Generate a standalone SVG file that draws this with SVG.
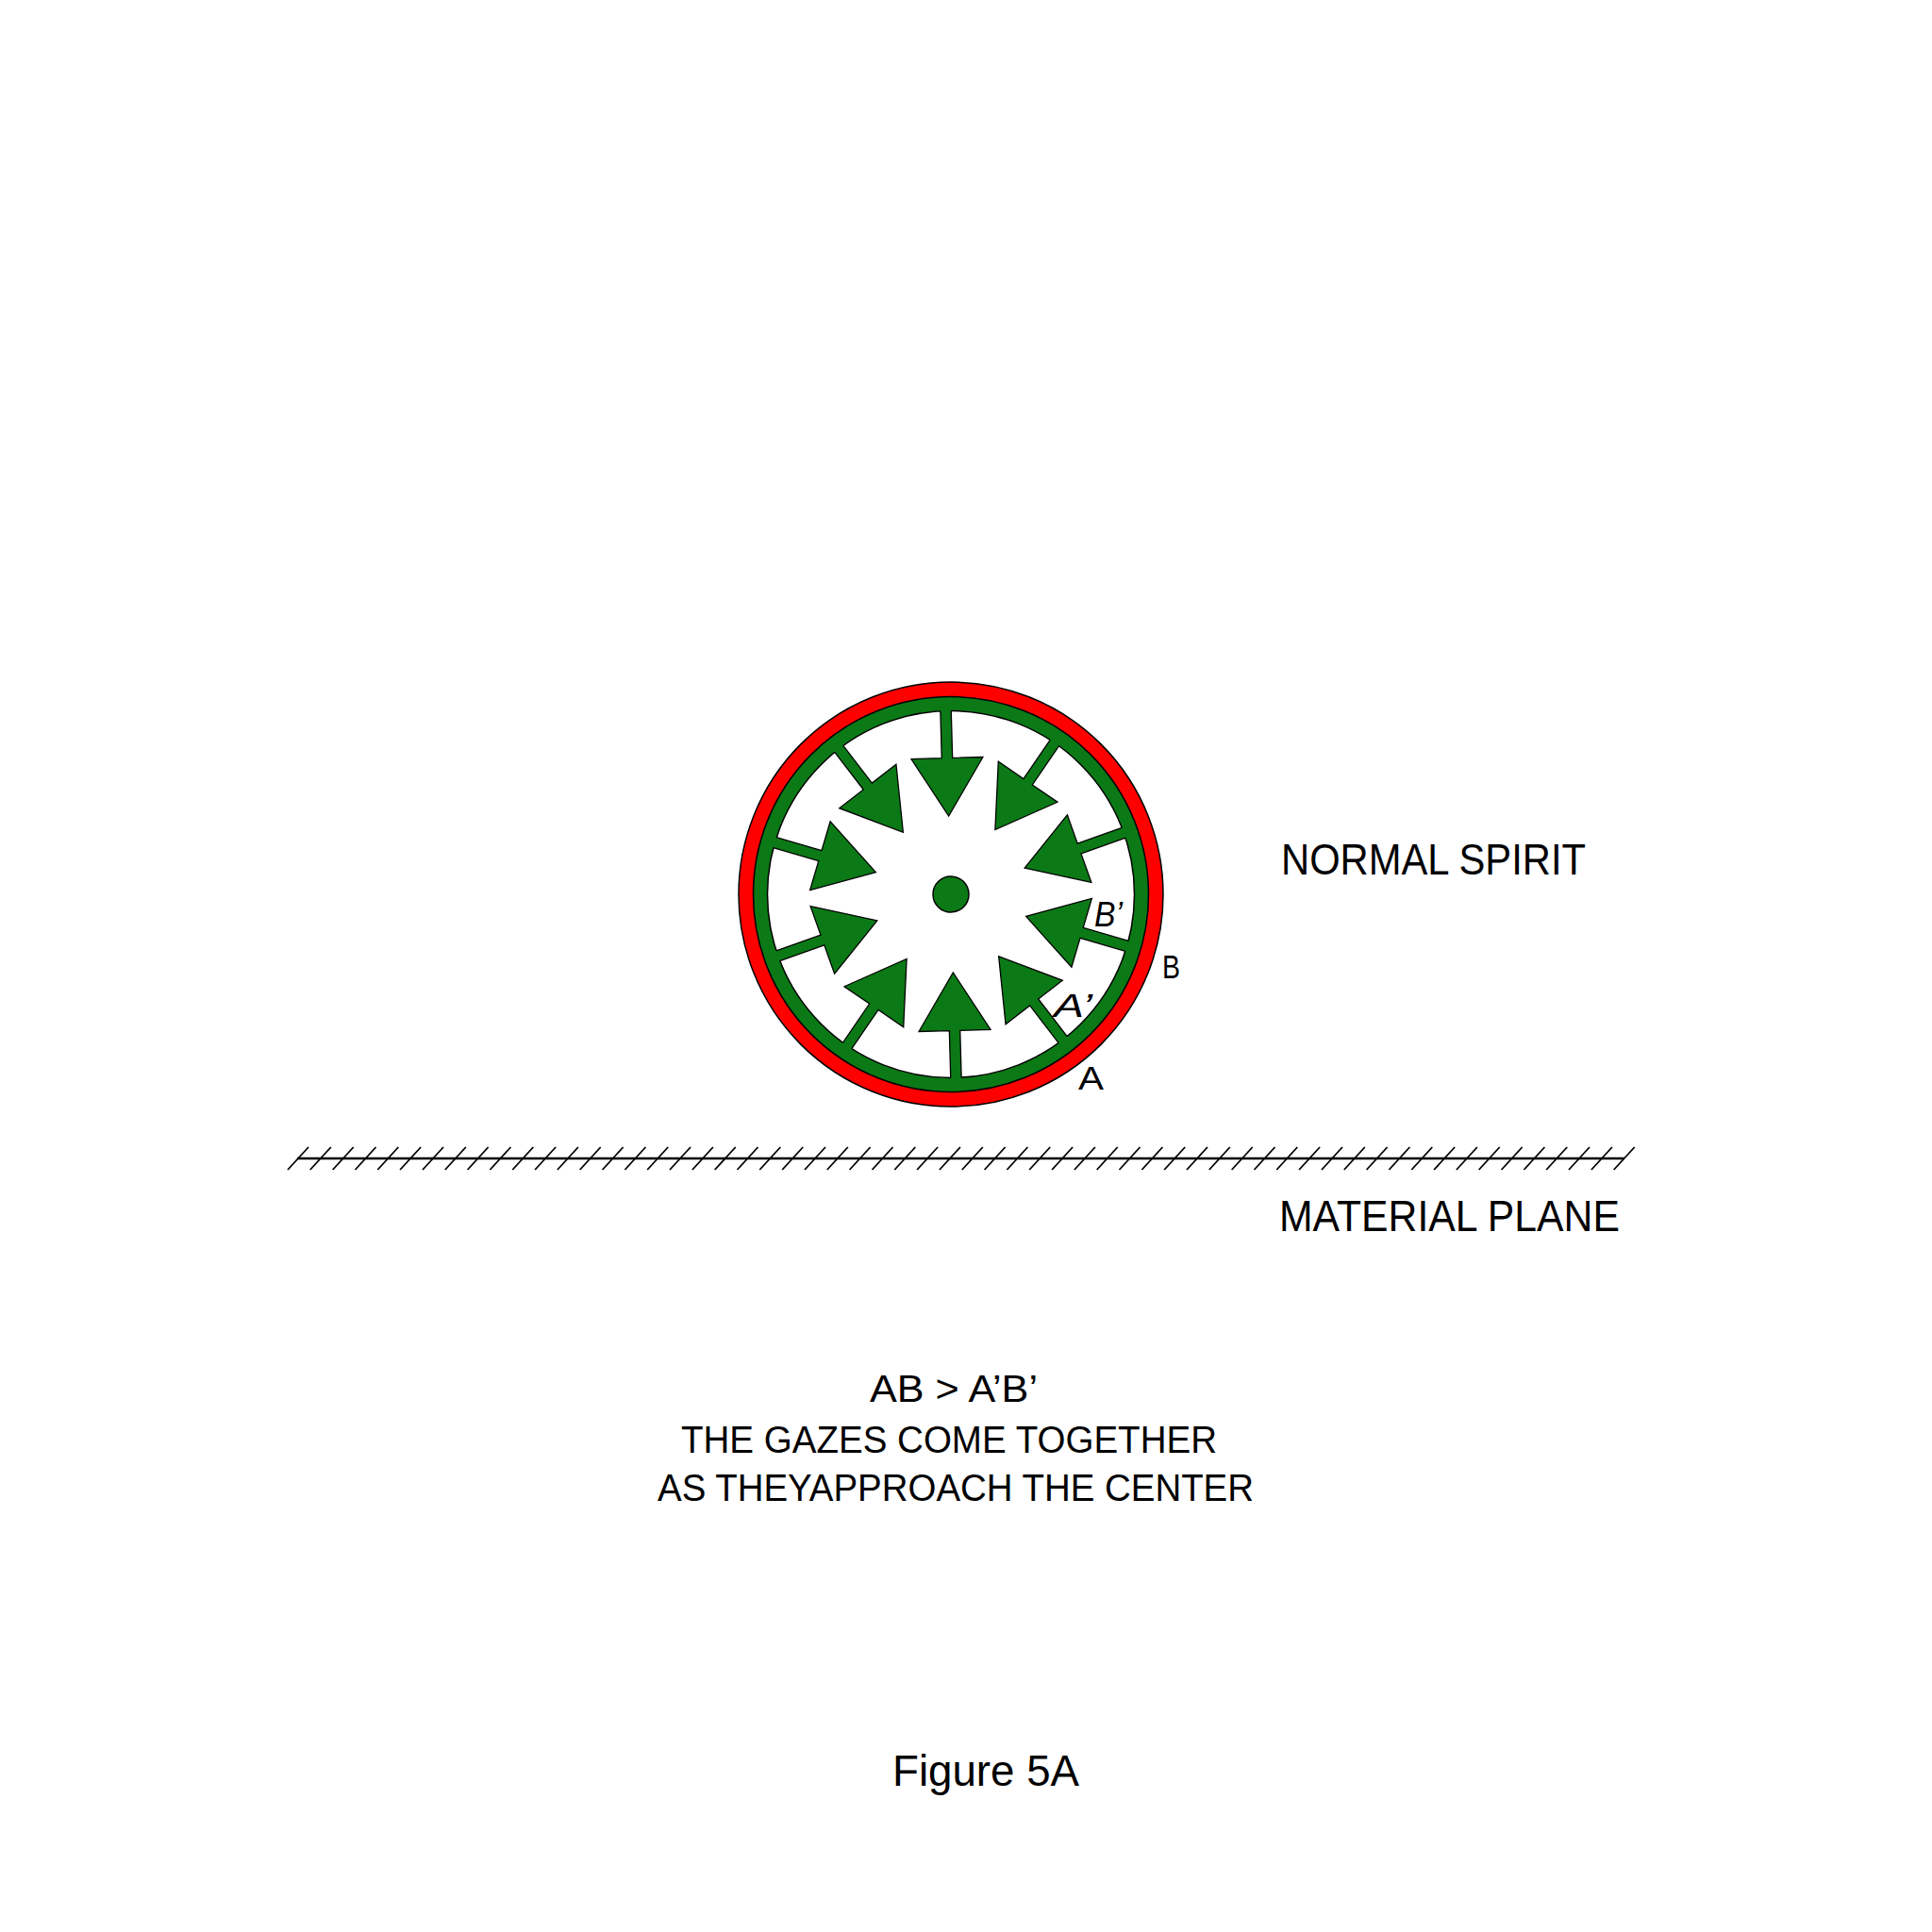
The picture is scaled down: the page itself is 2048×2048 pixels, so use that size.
<svg xmlns="http://www.w3.org/2000/svg" xmlns:xlink="http://www.w3.org/1999/xlink" width="2048" height="2048" viewBox="0 0 2048 2048">
<style>
.t{font-family:"Liberation Sans","DejaVu Sans",sans-serif;fill:#000;}
.ol{stroke:#000;stroke-width:1.5;}
.red{fill:#ff0000;}
.grn{fill:#0b7a16;}
.wht{fill:#ffffff;}
.hatch{stroke:#000;stroke-width:1.8;fill:none;}
</style>
<defs>
<g id="arrow">
<path class="grn" d="M-5.7,-198 L-5.7,-144.5 L-38,-144.5 L0,-83 L38,-144.5 L5.7,-144.5 L5.7,-198 Z"/>
<path fill="none" stroke="#000" stroke-width="1.3" stroke-linejoin="miter" d="M-5.7,-194.5 L-5.7,-144.5 L-38,-144.5 L0,-83 L38,-144.5 L5.7,-144.5 L5.7,-194.5"/>
</g>
</defs>
<rect width="2048" height="2048" fill="#ffffff"/>

<g id="spirit">
<circle class="red ol" cx="1008" cy="948" r="225"/>
<circle class="grn ol" cx="1008" cy="948" r="209.5"/>
<circle class="wht ol" cx="1008" cy="948" r="194.5"/>
<circle class="grn ol" cx="1008" cy="948" r="19"/>
</g>

<g id="gazes" transform="translate(1008,948)">
<use xlink:href="#arrow" transform="rotate(-1.6)"/>
<use xlink:href="#arrow" transform="rotate(34.4)"/>
<use xlink:href="#arrow" transform="rotate(70.4)"/>
<use xlink:href="#arrow" transform="rotate(106.4)"/>
<use xlink:href="#arrow" transform="rotate(142.4)"/>
<use xlink:href="#arrow" transform="rotate(178.4)"/>
<use xlink:href="#arrow" transform="rotate(214.4)"/>
<use xlink:href="#arrow" transform="rotate(250.4)"/>
<use xlink:href="#arrow" transform="rotate(286.4)"/>
<use xlink:href="#arrow" transform="rotate(322.4)"/>
</g>

<g id="point-labels">
<text class="t" x="1160" y="982" font-size="36" font-style="italic" textLength="30" lengthAdjust="spacingAndGlyphs">B’</text>
<text class="t" x="1232" y="1037" font-size="35" textLength="19" lengthAdjust="spacingAndGlyphs">B</text>
<text class="t" x="1117" y="1078" font-size="35" font-style="italic" textLength="41" lengthAdjust="spacingAndGlyphs">A’</text>
<text class="t" x="1143" y="1155" font-size="35" textLength="27" lengthAdjust="spacingAndGlyphs">A</text>
</g>

<g id="material-plane">
<line x1="315" y1="1228" x2="1722" y2="1228" stroke="#000" stroke-width="2.5"/>
<path class="hatch" d="M305,1240l22,-24M328.8,1240l22,-24M352.7,1240l22,-24M376.5,1240l22,-24M400.3,1240l22,-24M424.1,1240l22,-24M448,1240l22,-24M471.8,1240l22,-24M495.6,1240l22,-24M519.4,1240l22,-24M543.3,1240l22,-24M567.1,1240l22,-24M590.9,1240l22,-24M614.7,1240l22,-24M638.6,1240l22,-24M662.4,1240l22,-24M686.2,1240l22,-24M710,1240l22,-24M733.9,1240l22,-24M757.7,1240l22,-24M781.5,1240l22,-24M805.3,1240l22,-24M829.2,1240l22,-24M853,1240l22,-24M876.8,1240l22,-24M900.6,1240l22,-24M924.5,1240l22,-24M948.3,1240l22,-24M972.1,1240l22,-24M995.9,1240l22,-24M1019.8,1240l22,-24M1043.6,1240l22,-24M1067.4,1240l22,-24M1091.2,1240l22,-24M1115.1,1240l22,-24M1138.9,1240l22,-24M1162.7,1240l22,-24M1186.5,1240l22,-24M1210.4,1240l22,-24M1234.2,1240l22,-24M1258,1240l22,-24M1281.8,1240l22,-24M1305.7,1240l22,-24M1329.5,1240l22,-24M1353.3,1240l22,-24M1377.1,1240l22,-24M1401,1240l22,-24M1424.8,1240l22,-24M1448.6,1240l22,-24M1472.4,1240l22,-24M1496.3,1240l22,-24M1520.1,1240l22,-24M1543.9,1240l22,-24M1567.7,1240l22,-24M1591.6,1240l22,-24M1615.4,1240l22,-24M1639.2,1240l22,-24M1663,1240l22,-24M1686.9,1240l22,-24M1710.7,1240l22,-24"/>
</g>

<g id="region-labels">
<text class="t" x="1358" y="927" font-size="46" textLength="323" lengthAdjust="spacingAndGlyphs">NORMAL SPIRIT</text>
<text class="t" x="1356" y="1305" font-size="46" textLength="361" lengthAdjust="spacingAndGlyphs">MATERIAL PLANE</text>
</g>

<g id="caption">
<text class="t" x="922" y="1486" font-size="40" textLength="178" lengthAdjust="spacingAndGlyphs">AB &gt; A’B’</text>
<text class="t" x="722" y="1540" font-size="40" textLength="568" lengthAdjust="spacingAndGlyphs">THE GAZES COME TOGETHER</text>
<text class="t" x="697" y="1591" font-size="40" textLength="632" lengthAdjust="spacingAndGlyphs">AS THEYAPPROACH THE CENTER</text>
</g>

<g id="figure-title">
<text class="t" x="946" y="1893" font-size="46" textLength="198" lengthAdjust="spacingAndGlyphs">Figure 5A</text>
</g>
</svg>
